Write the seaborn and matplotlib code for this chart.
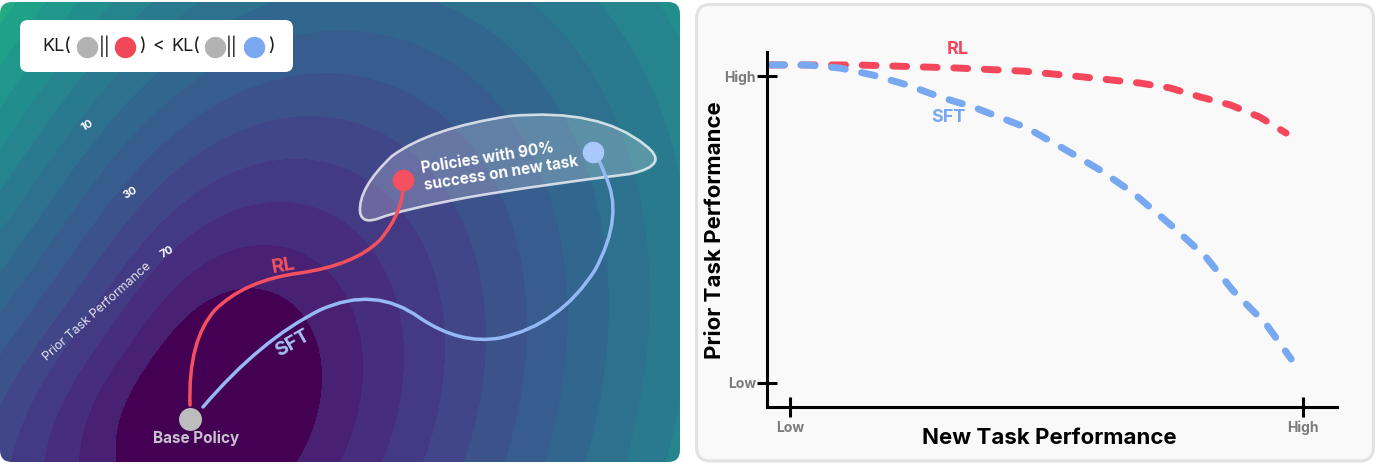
import numpy as np
import matplotlib
matplotlib.use("Agg")
import matplotlib.pyplot as plt
from matplotlib.patches import FancyBboxPatch, PathPatch
from matplotlib.path import Path
import seaborn as sns

# ---- right panel: schematic trade-off curves (0 = Low, 1 = High) ----
tick_vals = [0, 1]
tick_labels = ["Low", "High"]
rl_x = [-0.038, 0.131, 0.326, 0.454, 0.571, 0.682, 0.741, 0.799, 0.858, 0.916, 0.967]
rl_y = [1.036, 1.036, 1.026, 1.016, 0.997, 0.977, 0.961, 0.932, 0.906, 0.866, 0.814]
sft_x = [-0.038, 0.033, 0.097, 0.162, 0.228, 0.292, 0.357, 0.462, 0.538, 0.604,
         0.669, 0.747, 0.811, 0.864, 0.928, 0.977]
sft_y = [1.036, 1.036, 1.026, 1.003, 0.971, 0.932, 0.899, 0.831, 0.759, 0.694,
         0.619, 0.508, 0.410, 0.300, 0.192, 0.078]

# ---- left panel: KL landscape (panel pixel coords, y down) ----
well_center = (215, 405)
valley_dir = 62               # long axis of the basin, degrees
slope_along = 0.0008
slope_across = 0.00105
steep_dir, steep_gain, steep_spread = 140, 0.68, 50   # steeper upper-left flank
steep_onset = 120             # flank steepening fades in away from the basin
floor_offset = 0.015
band_levels = [0, 0.09, 0.13, 0.17, 0.21, 0.25, 0.29, 0.33, 0.37, 0.41, 0.45,
               0.49, 0.53, 0.57, 0.61, 0.65, 0.69, 0.95]
contour_labels = ["10", "30", "70"]

# quadratic bezier vertices (on, ctrl, on, ctrl, ...)
rl_path = [(190, 405), (188, 340), (215, 310), (245, 280), (300, 273),
           (355, 265), (380, 240), (405, 210), (403, 180)]
sft_path = [(203, 407), (260, 340), (320, 310), (375, 285), (420, 318),
            (460, 345), (500, 338), (560, 325), (595, 270), (625, 215),
            (605, 175), (600, 160), (593, 152)]
blob_path = [(360, 212), (358, 188), (392, 156), (430, 128), (510, 116),
             (600, 108), (645, 145), (672, 165), (630, 174), (540, 185),
             (470, 197), (400, 210), (380, 218), (362, 225), (360, 212)]
base_pt = (190, 419)
rl_pt = (403, 180)
sft_pt = (593, 152)

RED = "#f5475b"
BLUE = "#78a9f0"

sns.set_style("white")
plt.rcParams["font.family"] = ["Inter", "DejaVu Sans"]

fig = plt.figure(figsize=(13.76, 4.68), dpi=100)
fig.patch.set_facecolor("white")

ax_bg = fig.add_axes([0, 0, 1, 1])
ax_bg.set_xlim(0, 1376)
ax_bg.set_ylim(468, 0)
ax_bg.axis("off")
ax_bg.set_zorder(0)
ax_bg.add_patch(FancyBboxPatch((696.5, 4.5), 677, 456.5,
                               boxstyle="round,pad=0,rounding_size=14",
                               fc="#f9f9fa", ec="#e2e2e2", lw=2.2))

# ---------------- left panel ----------------
ax_l = fig.add_axes([0, 6 / 468, 680 / 1376, 460 / 468])
ax_l.set_zorder(1)
ax_l.set_xlim(0, 680)
ax_l.set_ylim(462, 2)
ax_l.axis("off")


def ang_diff(a, b):
    return (a - b + 180) % 360 - 180


gx, gy = np.meshgrid(np.linspace(0, 680, 500), np.linspace(0, 462, 340))
dx = gx - well_center[0]
dy = well_center[1] - gy
th = np.radians(valley_dir)
u = dx * np.cos(th) + dy * np.sin(th)
w = -dx * np.sin(th) + dy * np.cos(th)
r = np.hypot(dx, dy)
phi = np.degrees(np.arctan2(dy, dx))
metric = np.sqrt((slope_along * u) ** 2 + (slope_across * w) ** 2)
flank = np.exp(-(ang_diff(phi, steep_dir) / steep_spread) ** 2) * r / (r + steep_onset)
field = np.clip(metric * (1 + steep_gain * flank) - floor_offset, 0, None)

band_colors = [plt.cm.viridis(v) for v in band_levels[:-1]]
panel = FancyBboxPatch((0, 2), 680, 460, boxstyle="round,pad=0,rounding_size=12",
                       transform=ax_l.transData, fc="none", ec="none")
cs = ax_l.contourf(gx, gy, field, levels=band_levels, colors=band_colors)
cs.set_clip_path(panel)


def qpath(pts):
    codes = [Path.MOVETO] + [Path.CURVE3] * (len(pts) - 1)
    return Path(pts, codes)


ax_l.add_patch(PathPatch(qpath(blob_path), fc=(1, 1, 1, 0.22),
                         ec=(1, 1, 1, 0.75), lw=1.9, zorder=3))
ax_l.add_patch(PathPatch(qpath(rl_path), fc="none", ec="#f4505f", lw=2.5,
                         capstyle="round", zorder=4))
ax_l.add_patch(PathPatch(qpath(sft_path), fc="none", ec="#94b9f6", lw=2.5,
                         capstyle="round", zorder=4))
ax_l.plot(*base_pt, "o", ms=15.5, color="#bdbdbd", zorder=5)
ax_l.plot(*rl_pt, "o", ms=14.5, color="#f5505f", zorder=5)
ax_l.plot(*sft_pt, "o", ms=14.5, color="#a9c9fb", zorder=5)

ax_l.text(500, 165, "Policies with 90%\nsuccess on new task", color="white",
          fontsize=11, fontweight="bold", rotation=9, ha="center", va="center",
          multialignment="left", linespacing=1.15, zorder=6)
ax_l.text(284, 266, "RL", color="#f4505f", fontsize=14, fontweight="bold",
          rotation=10, ha="center", va="center", zorder=6)
ax_l.text(293, 343, "SFT", color="#a4c2f8", fontsize=14, fontweight="bold",
          rotation=30, ha="center", va="center", zorder=6)
ax_l.text(196, 438, "Base Policy", color="#c8c2cf", fontsize=11,
          fontweight="bold", ha="center", va="center", zorder=6)
ax_l.text(97, 312, "Prior Task Performance", color="white", alpha=0.85,
          fontsize=9, rotation=42, ha="center", va="center", zorder=6)
for lab, (lx, ly) in zip(contour_labels, [(87, 125), (130, 193), (167, 252)]):
    ax_l.text(lx, ly, lab, color="white", fontsize=8, fontweight="bold",
              rotation=30, ha="center", va="center", zorder=6)

# KL legend box
ax_l.add_patch(FancyBboxPatch((20, 20), 273, 52, boxstyle="round,pad=0,rounding_size=8",
                              fc="white", ec="none", zorder=7))
kl_kw = dict(fontsize=13, color="#1c1c1c", va="center", ha="center", zorder=8)
for s, xp in [("KL(", 57), ("||", 105), (")", 142), ("<", 158), ("KL(", 186),
              ("||", 232), (")", 271)]:
    ax_l.text(xp, 46, s, **kl_kw)
for xp, c in [(87, "#b3b3b3"), (125, "#f04858"), (215, "#b3b3b3"), (254, "#7aa8f0")]:
    ax_l.plot(xp, 47, "o", ms=14.4, color=c, zorder=8)

# ---------------- right panel ----------------
ax_r = fig.add_axes([767 / 1376, (468 - 407) / 468, 570 / 1376, 355 / 468])
ax_r.set_zorder(2)
ax_r.set_facecolor("none")

sns.lineplot(x=rl_x, y=rl_y, ax=ax_r, color=RED, lw=5, sort=False,
             linestyle=(0, (2.0, 2.4)), dash_capstyle="round", clip_on=False)
sns.lineplot(x=sft_x, y=sft_y, ax=ax_r, color=BLUE, lw=5, sort=False,
             linestyle=(0, (2.0, 2.4)), dash_capstyle="round", clip_on=False)

ax_r.set_xlim(-23 / 513, 547 / 513)
ax_r.set_ylim(-24 / 307, 331 / 307)
for side in ["top", "right"]:
    ax_r.spines[side].set_visible(False)
for side in ["left", "bottom"]:
    ax_r.spines[side].set_linewidth(2.2)
    ax_r.spines[side].set_color("black")
ax_r.set_xticks(tick_vals, tick_labels)
ax_r.set_yticks(tick_vals, tick_labels)
ax_r.tick_params(bottom=True, left=True, direction="inout", length=14, width=2.2,
                 color="black", labelcolor="#7b7b7b", labelsize=10, pad=1)
ax_r.tick_params(axis="x", pad=3)
for lab in ax_r.get_xticklabels() + ax_r.get_yticklabels():
    lab.set_fontweight("bold")

ax_r.set_xlabel("New Task Performance", fontsize=16, fontweight="bold", color="black")
ax_r.set_ylabel("Prior Task Performance", fontsize=16, fontweight="bold", color="black")
ax_r.xaxis.set_label_coords(0.496, -0.087)
ax_r.xaxis.label.set_va("center")
ax_r.yaxis.set_label_coords(-0.091, 0.499)
ax_r.yaxis.label.set_va("center")

ax_r.text(0.327, 1.085, "RL", color=RED, fontsize=13, fontweight="bold",
          ha="center", va="center")
ax_r.text(0.308, 0.866, "SFT", color=BLUE, fontsize=13, fontweight="bold",
          ha="center", va="center")

fig.savefig("out.png", dpi=100)
